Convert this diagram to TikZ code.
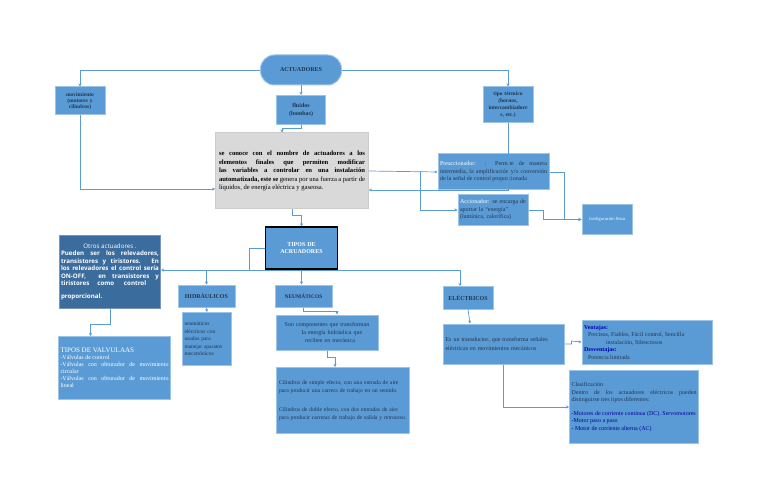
\documentclass[tikz,border=0pt]{standalone}
\usepackage{fontspec}
\setmainfont{Liberation Serif}
\newfontfamily\sansf{Open Sans}
\usetikzlibrary{arrows.meta}
\hyphenpenalty=10000 \exhyphenpenalty=10000
\definecolor{bxb}{HTML}{5B9BD5}
\definecolor{bxd}{HTML}{3A6C9E}
\definecolor{ln}{HTML}{5B9BD5}
\definecolor{tx}{HTML}{1F3550}
\begin{document}
\begin{tikzpicture}[x=1pt,y=-1pt,
 bx/.style={draw=bxb!60!white,line width=1pt,fill=bxb,inner sep=1.5pt,font=\fontsize{6}{7}\selectfont,text=tx},
 con/.style={draw=ln,line width=0.7pt,-{Stealth[length=3pt,width=3pt]}},
 ln/.style={draw=ln,line width=0.7pt}]
\useasboundingbox (0,0) rectangle (768,497);
\fill[white] (0,0) rectangle (768,497);
% nodes
\node[bx,rounded corners=14pt,minimum width=81pt,minimum height=30pt,font=\fontsize{6}{7}\selectfont\bfseries] (act) at (301,70) {ACTUADORES};
\node[bx,minimum width=50pt,minimum height=28pt,text width=47pt,align=center,font=\fontsize{5.5}{6.3}\selectfont\bfseries] (mov) at (80,101) {movimiento (motores y cilindros)};
\node[bx,minimum width=49pt,minimum height=29pt,text width=45pt,align=center,font=\fontsize{6}{7.5}\selectfont\bfseries] (flu) at (301,110) {fluidos\\(bombas)};
\node[bx,minimum width=49pt,minimum height=36pt,text width=47pt,align=center,font=\fontsize{5.5}{7}\selectfont\bfseries] (ter) at (508,105) {tipo térmico (hornos, intercambiadore s, etc.)};
\node[draw=black!20,fill=black!15,line width=1pt,minimum width=152pt,minimum height=76pt,text width=146pt,align=justify,font=\fontsize{6.6}{8.5}\selectfont,text=black] (gr) at (292,171) {\textbf{se conoce con el nombre de actuadores a los elementos finales que permiten modificar las variables a controlar en una instalación automatizada, este se} genera por una fuerza a partir de líquidos, de energía eléctrica y gaseosa.};
\node[bx,minimum width=111pt,minimum height=36pt,text width=107pt,align=justify,font=\fontsize{6}{7.5}\selectfont] (pre) at (493.5,172) {\textcolor{white}{Preaccionador:} : Permite de manera intermedia, la amplificación y/o conversión de la señal de control proporcionada};
\node[bx,minimum width=70pt,minimum height=30pt,text width=66pt,align=left,font=\fontsize{6}{7.5}\selectfont] (acc) at (493,210) {\textcolor{white}{Accionador:} se encarga de aportar la ``energía''\\ (lumínica, calorífica)};
\node[bx,minimum width=50pt,minimum height=29pt,text=white,font=\sansf\fontsize{4}{5}\selectfont] (cfg) at (607,219.5) {Configuración física};
\node[draw=black,line width=1.3pt,fill=bxb,minimum width=71pt,minimum height=42pt,text width=66pt,align=center,text=white,font=\fontsize{6}{7.5}\selectfont\bfseries] (tip) at (301.5,248) {TIPOS DE\\ACRUADORES};
\node[draw=bxd!70!white,line width=1pt,fill=bxd,minimum width=101pt,minimum height=73pt,text width=98pt,align=justify,anchor=north west,inner sep=1.5pt,font=\sansf\fontsize{6.2}{7.4}\selectfont,text=white] (otr) at (59,235) {\makebox[\linewidth]{Otros actuadores .}\par\textbf{Pueden ser los relevadores, transistores y tiristores. En los relevadores el control sería ON-OFF, \ en transistores y tiristores \ \ \ \ como \ \ \ \ \ control}\\[6pt]\textbf{proporcional.}};
\node[bx,minimum width=57pt,minimum height=22pt,font=\fontsize{6}{7}\selectfont\bfseries] (hid) at (206.5,296) {HIDRÁULICOS};
\node[bx,minimum width=57pt,minimum height=22pt,font=\fontsize{5.5}{7}\selectfont\bfseries] (neu) at (303.5,296) {NEUMÁTICOS};
\node[bx,minimum width=50pt,minimum height=23pt,font=\fontsize{6}{7}\selectfont\bfseries] (ele) at (468,297.5) {ELÉCTRICOS};
\node[bx,minimum width=112pt,minimum height=63pt,text width=108pt,align=justify,anchor=north west,font=\fontsize{6}{7}\selectfont,text=white] (val) at (58,336) {\fontsize{7}{9}\selectfont TIPOS DE VALVULAAS\par\fontsize{6}{7}\selectfont -Válvulas de control\\ -Válvulas con obturador de movimiento circular\\ -Válvulas con obturador de movimiento lineal};
\node[bx,minimum width=49pt,minimum height=53pt,text width=45pt,align=left,anchor=north west,font=\fontsize{5.5}{7.5}\selectfont] (hsub) at (182,312) {neumáticos eléctricos con usados para manejar aparatos mecatrónicos};
\node[bx,minimum width=102pt,minimum height=35pt,text width=98pt,align=center,font=\fontsize{6}{8}\selectfont] (son) at (327,332.5) {Son componentes que transforman\\ \hspace*{10pt}la energía hidráulica que\\ \hspace*{6pt}reciben en mecánica};
\node[bx,minimum width=133pt,minimum height=66pt,text width=128pt,align=left,anchor=north west,font=\fontsize{5.7}{7.5}\selectfont] (cil) at (276,367) {Cilindros de simple efecto, con una entrada de aire para producir una carrera de trabajo en un sentido.\\[12pt] Cilindros de doble efecto, con dos entradas de aire para producir carreras de trabajo de salida y retroceso.};
\node[bx,minimum width=121pt,minimum height=40pt,text width=116pt,align=left,font=\fontsize{6}{9}\selectfont] (trn) at (503.5,344) {Es un transductor, que transforma señales eléctricas en movimientos mecánicos};
\node[bx,minimum width=130pt,minimum height=44pt,text width=126pt,align=justify,font=\fontsize{6}{7.5}\selectfont] (ven) at (647,342) {\textcolor{blue!70!black}{\textbf{Ventajas:}}\\ \hspace*{4pt}Precisos, Fiables, Fácil control, Sencilla\\ \hspace*{22pt}instalación, Silenciosos\\ \textcolor{blue!70!black}{\textbf{Desventajas:}}\\ \hspace*{4pt}Potencia limitada};
\node[bx,minimum width=129pt,minimum height=73pt,text width=125pt,align=justify,anchor=north west,font=\fontsize{6}{7.5}\selectfont] (cla) at (569,370) {Clasificación\\ Dentro de los actuadores eléctricos pueden distinguirse tres tipos diferentes:\\[6pt] \textcolor{blue!60!black}{-Motores de corriente continua (DC). Servomotores\\ -Motor paso a paso\\ - Motor de corriente alterna (AC)}};
% connectors
\draw[con] (act.west) -| (mov.north);
\draw[con] (act.east) -| (ter.north);
\draw[con] (act.south) -- (flu.north);
\draw[con] (flu.south) -- ++(0,3) -| ([xshift=-10pt]gr.north);
\draw[con] (mov.south) |- ([yshift=-18pt]gr.west);
\draw[con] (ter.south) |- ([yshift=-19pt]gr.east);
\draw[con] (gr.east) -- (pre.west);
\draw[con] (420,171) |- (acc.west);
\draw[con] (pre.east) -- ++(15,0) |- (cfg.west);
\draw[con] (acc.east) -- ++(15,0) |- (cfg.west);
\draw[con] (gr.south) -- ++(0,6) -| (tip.north);
\draw[ln] (tip.west) -- ++(-15,0) -- ++(0,22);
\draw[con] (460,270) -- (otr.east |- 0,270);
\draw[con] (460,270) -- (460,286);
\draw[con] (hid.north |- 0,270) -- (hid.north);
\draw[con] (tip.south) -- (tip.south |- neu.north);
\draw[con] (otr.south) -- ++(0,15) -| ([xshift=-24pt]val.north);
\draw[con] (hid.south) -- (hsub.north);
\draw[con] (neu.south) -- ++(0,4) -| ([xshift=10pt]son.north);
\draw[con] (son.south) -- ++(0,7) -| ([xshift=-8pt]cil.north);
\draw[con] (ele.south) -- (trn.north -| 470,0);
\draw[con] (trn.east) -- ++(7,0) -- ++(0,-3) -- (ven.west);
\draw[con] (trn.south) |- (cla.west |- 0,407);
\end{tikzpicture}
\end{document}
